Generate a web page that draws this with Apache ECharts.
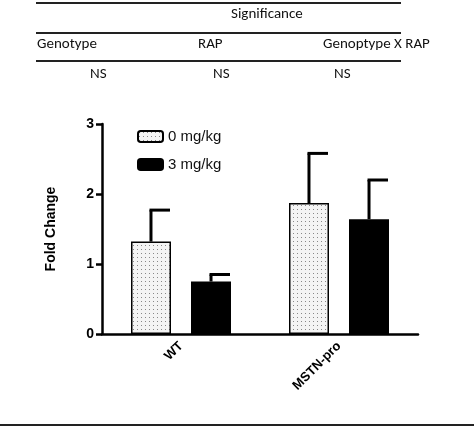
<!DOCTYPE html>
<html><head><meta charset="utf-8">
<script src="https://cdn.jsdelivr.net/npm/echarts@6/dist/echarts.min.js"></script>
<style>html,body{margin:0;padding:0;background:#fff}#c{width:474px;height:431px}</style>
</head><body><div id="c"></div>
<script>
var categories = ['WT', 'MSTN-pro'];
var dose0 = [1.32, 1.87];
var dose0Err = [1.77, 2.58];
var dose3 = [0.75, 1.64];
var dose3Err = [0.85, 2.20];
var yTicks = [0, 1, 2, 3];

// dotted fill
var pc = document.createElement('canvas');
pc.width = 4; pc.height = 4;
var pctx = pc.getContext('2d');
pctx.fillStyle = '#f4f4f4'; pctx.fillRect(0, 0, 4, 4);
pctx.fillStyle = '#888'; pctx.fillRect(1, 1, 1, 1);
var dots = { image: pc, repeat: 'repeat' };

function errSeries(vals, errs, idx) {
    return {
        type: 'custom',
        silent: true,
        z: 1,
        data: vals.map(function (v, i) { return [i, v, errs[i]]; }),
        renderItem: function (params, api) {
            var base = api.coord([api.value(0), api.value(1)]);
            var top = api.coord([api.value(0), api.value(2)]);
            var w = api.size([1, 0])[0];
            var x = base[0] + (idx === 0 ? -w * 0.19 : w * 0.19);
            return {
                type: 'group',
                children: [
                    { type: 'line', shape: { x1: x, y1: base[1], x2: x, y2: top[1] }, style: { stroke: '#000', lineWidth: 3 } },
                    { type: 'line', shape: { x1: x - 1.5, y1: top[1], x2: x + 19, y2: top[1] }, style: { stroke: '#000', lineWidth: 3 } }
                ]
            };
        }
    };
}

var chart = echarts.init(document.getElementById('c'));
var txt = { fontFamily: 'Calibri, Carlito, "Liberation Sans", sans-serif', fontSize: 15, fill: '#111' };
function t(x, y, s, align) {
    return { type: 'text', left: x, top: y, style: Object.assign({ text: s, textAlign: align || 'center' }, txt) };
}
chart.setOption({
    animation: false,
    grid: { left: 102, right: 56, top: 124, bottom: 97 },
    legend: {
        orient: 'vertical', left: 132, top: 124, itemWidth: 25, itemHeight: 11, itemGap: 13,
        textStyle: { fontSize: 15, fontFamily: 'Arial, "Liberation Sans"', color: '#111' },
        data: ['0 mg/kg', '3 mg/kg']
    },
    xAxis: {
        type: 'category', data: categories,
        axisLine: { lineStyle: { color: '#000', width: 2.5 } },
        axisTick: { alignWithLabel: true, length: 6, lineStyle: { width: 2.5, color: '#000' } },
        axisLabel: { rotate: 45, fontWeight: 'bold', fontSize: 13, color: '#000', fontFamily: 'Arial, "Liberation Sans"', margin: 10 }
    },
    yAxis: {
        type: 'value', min: 0, max: 3, interval: 1,
        name: 'Fold Change', nameLocation: 'middle', nameGap: 44,
        nameTextStyle: { fontWeight: 'bold', fontSize: 14, color: '#000', fontFamily: 'Arial, "Liberation Sans"' },
        splitLine: { show: false },
        axisLine: { show: true, lineStyle: { color: '#000', width: 2.5 } },
        axisTick: { show: true, length: 6, lineStyle: { width: 2.5, color: '#000' } },
        axisLabel: { fontWeight: 'bold', fontSize: 14, color: '#000', fontFamily: 'Arial, "Liberation Sans"',
            formatter: function (v) { return yTicks.indexOf(v) >= 0 ? String(v) : ''; } }
    },
    series: [
        { name: '0 mg/kg', type: 'bar', data: dose0, barWidth: 40, barGap: '50%', z: 2,
          itemStyle: { color: dots, borderColor: '#000', borderWidth: 1.5 } },
        { name: '3 mg/kg', type: 'bar', data: dose3, barWidth: 40, z: 2,
          itemStyle: { color: '#000', borderColor: '#000', borderWidth: 1.5 } },
        errSeries(dose0, dose0Err, 0),
        errSeries(dose3, dose3Err, 1)
    ],
    graphic: [
        { type: 'line', shape: { x1: 36, y1: 3, x2: 401, y2: 3 }, style: { stroke: '#222', lineWidth: 2 } },
        { type: 'line', shape: { x1: 36, y1: 33, x2: 401, y2: 33 }, style: { stroke: '#222', lineWidth: 2 } },
        { type: 'line', shape: { x1: 36, y1: 61, x2: 401, y2: 61 }, style: { stroke: '#222', lineWidth: 2 } },
        { type: 'line', shape: { x1: 0, y1: 425, x2: 474, y2: 425 }, style: { stroke: '#222', lineWidth: 2 } },
        t(231, 7, 'Significance'), t(37, 37, 'Genotype', 'left'), t(198, 37, 'RAP'), t(323, 37, 'Genoptype X RAP'),
        t(90, 67, 'NS'), t(213, 67, 'NS'), t(334, 67, 'NS')
    ]
});
</script></body></html>
